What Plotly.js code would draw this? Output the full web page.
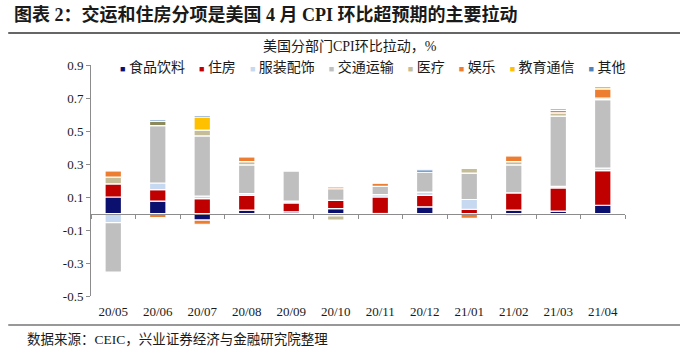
<!DOCTYPE html>
<html><head><meta charset="utf-8">
<script src="https://cdn.plot.ly/plotly-3.0.1.min.js"></script>
<style>html,body{margin:0;padding:0;background:#fff;}</style>
</head><body><div id="chart" style="width:688px;height:359px;"></div>
<script>
const months = ['20/05','20/06','20/07','20/08','20/09','20/10','20/11','20/12','21/01','21/02','21/03','21/04'];
const food       = [0.10, 0.075, -0.04, 0.02, 0.01, 0.03, 0.00, 0.04, 0.00, 0.02, 0.015, 0.05];
const housing    = [0.08, 0.07, 0.09, 0.09, 0.055, 0.05, 0.10, 0.07, 0.025, 0.105, 0.14, 0.21];
const apparel    = [-0.055, 0.04, 0.015, 0.01, 0.01, -0.015, 0.015, 0.02, 0.06, -0.015, 0.01, 0.015];
const transport  = [-0.30, 0.347, 0.365, 0.175, 0.185, 0.07, 0.05, 0.12, 0.16, 0.17, 0.425, 0.415];
const medical    = [0.04, 0.028, 0.035, 0.02, 0.0, -0.025, -0.005, 0.0, 0.03, 0.02, 0.02, 0.01];
const recreation = [0.04, -0.025, -0.025, 0.03, 0.0, 0.013, 0.02, -0.01, -0.03, 0.035, 0.015, 0.055];
const education  = [0, 0, 0.08, 0, 0, 0, 0, 0, 0, 0, 0, 0.015];
const other      = [0, 0.01, 0.01, 0, 0, 0, 0, 0.015, 0, 0, 0.01, 0];
const yTicks = [-0.5, -0.3, -0.1, 0.1, 0.3, 0.5, 0.7, 0.9];

const seriesNames  = ['食品饮料','住房','服装配饰','交通运输','医疗','娱乐','教育通信','其他'];
const seriesValues = [food, housing, apparel, transport, medical, recreation, education, other];
const seriesColors = ['#0b0f6e','#c00000','#c6d9f0','#bfbfbf','#c4bd97','#ed7d31','#ffc000','#4f81bd'];

const traces = seriesNames.map((name, k) => {
  let color = seriesColors[k];
  if (name === '医疗') color = months.map((m, i) => i === 1 ? '#8c8a5a' : seriesColors[k]);
  return {
    type: 'bar', name: name, x: months, y: seriesValues[k],
    marker: {color: color, line: {color: '#ffffff', width: 1.2}},
    hoverinfo: 'skip', showlegend: false
  };
});
// helper trace so the zero-line axis (x2) exists
traces.push({type: 'scatter', mode: 'none', x: months, y: food, xaxis: 'x2', yaxis: 'y', showlegend: false, hoverinfo: 'skip'});

const yMin = -0.5, yMax = 0.9;
const gap = '\u00A0\u00A0\u00A0\u00A0';
const legendText = seriesNames.map((n, k) =>
  `<span style="color:${seriesColors[k]};font-size:9px">■</span>\u00A0${n}`).join(gap);

const serif = 'Liberation Serif, Noto Sans CJK SC, serif';
const layout = {
  width: 688, height: 359,
  margin: {l: 91, r: 63, t: 65, b: 63},
  paper_bgcolor: '#fff', plot_bgcolor: '#fff',
  font: {family: serif, color: '#1a1a1a', size: 13},
  barmode: 'relative', bargap: 0.63,
  xaxis: {
    type: 'category', categoryarray: months, range: [-0.5, 11.5],
    showline: false, ticks: 'outside', ticklen: 3, tickcolor: 'rgba(0,0,0,0)',
    showgrid: false, zeroline: false,
    tickfont: {family: serif, size: 13, color: '#1a1a1a'}
  },
  xaxis2: {
    type: 'category', categoryarray: months, range: [-0.5, 11.5],
    overlaying: 'x', anchor: 'free', position: (0 - yMin) / (yMax - yMin),
    showline: true, linecolor: '#8c8c8c', linewidth: 1,
    ticks: 'outside', tickson: 'boundaries', ticklen: 4, tickcolor: '#8c8c8c',
    showticklabels: false, showgrid: false, zeroline: false
  },
  yaxis: {
    range: [yMin, yMax], tickvals: yTicks, ticktext: yTicks.map(v => v.toFixed(1)),
    showline: true, linecolor: '#8c8c8c', linewidth: 1,
    ticks: 'outside', ticklen: 4, tickcolor: '#8c8c8c',
    showgrid: false, zeroline: false,
    tickfont: {family: serif, size: 13, color: '#1a1a1a'}
  },
  shapes: [
    {type: 'line', xref: 'paper', yref: 'paper', x0: -0.155, x1: 1.103, y0: 1.1385, y1: 1.1385, line: {color: '#333', width: 1.5}},
    {type: 'line', xref: 'paper', yref: 'paper', x0: -0.155, x1: 1.103, y0: -0.1255, y1: -0.1255, line: {color: '#333', width: 1.2}}
  ],
  annotations: [
    {xref: 'paper', yref: 'paper', x: -0.148, y: 1.2165, xanchor: 'left', yanchor: 'middle', showarrow: false,
     text: '<b>图表 2：交运和住房分项是美国 4 月 CPI 环比超预期的主要拉动</b>', font: {family: serif, size: 18, color: '#1a1a1a'}},
    {xref: 'paper', yref: 'paper', x: 0.485, y: 1.082, xanchor: 'center', yanchor: 'middle', showarrow: false,
     text: '美国分部门CPI环比拉动，%', font: {family: serif, size: 14, color: '#1a1a1a'}},
    {xref: 'paper', yref: 'paper', x: 0.0506, y: 0.991, xanchor: 'left', yanchor: 'middle', showarrow: false,
     text: legendText, font: {family: serif, size: 14, color: '#1a1a1a'}},
    {xref: 'paper', yref: 'paper', x: -0.1236, y: -0.19, xanchor: 'left', yanchor: 'middle', showarrow: false,
     text: '数据来源：CEIC，兴业证券经济与金融研究院整理', font: {family: serif, size: 13.5, color: '#1a1a1a'}}
  ]
};
Plotly.newPlot('chart', traces, layout, {displayModeBar: false, staticPlot: true});
</script></body></html>
